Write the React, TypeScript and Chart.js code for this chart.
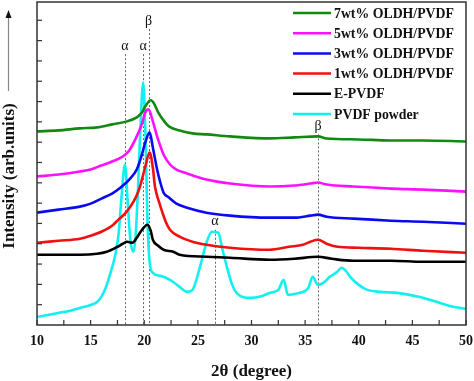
import React, { useEffect, useRef } from "react";
import { Chart, registerables } from "chart.js";
Chart.register(...registerables);

const FONT = "'Liberation Serif', 'Times New Roman', serif";

// 2θ (degree) vs intensity (arb. units, stacked offsets as plotted)
const seriesLabels = [
  "7wt% OLDH/PVDF",
  "5wt% OLDH/PVDF",
  "3wt% OLDH/PVDF",
  "1wt% OLDH/PVDF",
  "E-PVDF",
  "PVDF powder",
];
const seriesColors = ["#128a12", "#ff10ff", "#0a0af0", "#f01010", "#000000", "#10f0f0"];

const green7: number[][] = [
  [10, 193], [12, 194], [14, 196], [15.6, 197], [17, 200], [18.4, 203], [19.3, 207], [19.8, 212],
  [20.1, 218], [20.6, 224], [20.9, 221], [21.3, 212], [21.8, 204], [22.3, 198], [23.3, 194],
  [24.5, 191], [25.8, 190], [28, 188], [31.7, 186], [34, 187], [36.2, 188], [37, 186], [40, 185],
  [43, 184], [46, 184], [50, 183],
];
const magenta5: number[][] = [
  [10, 148], [12, 150], [14, 153], [15, 155], [16, 159], [17, 163], [18, 168], [18.6, 174],
  [19.3, 188], [19.8, 201], [20.1, 212], [20.4, 215], [20.8, 203], [21.2, 188], [21.8, 170],
  [22.4, 160], [23, 155], [24, 151], [25.8, 145], [28, 141], [31.7, 138], [34, 139], [35.5, 141],
  [36.2, 142], [37, 140], [39.5, 138], [43, 136], [46, 135], [50, 133],
];
const blue3: number[][] = [
  [10, 112], [12, 115], [14, 118], [15, 121], [16, 126], [17, 131], [17.8, 137], [18.6, 145],
  [19.3, 155], [19.7, 167], [20.1, 182], [20.5, 192], [20.8, 177], [21.2, 155], [21.5, 142],
  [21.8, 132], [22.3, 127], [23, 121], [24, 117], [25.8, 112], [28, 109], [31.7, 107], [34, 107],
  [35.5, 109], [36.2, 110], [37, 108], [39.5, 106], [43, 104], [46, 103], [50, 101],
];
const red1: number[][] = [
  [10, 82], [12, 84], [14, 86], [15, 89], [16, 93], [17, 99], [17.6, 105], [18.2, 111],
  [18.7, 118], [19.2, 127], [19.6, 138], [20.1, 158], [20.5, 172], [20.8, 157], [21, 138],
  [21.4, 122], [21.7, 112], [22, 103], [22.4, 95], [23.3, 88], [24.5, 83], [25.8, 80], [28, 77],
  [31.7, 75], [33.5, 78], [34.8, 80], [35.5, 83], [36.2, 85], [37, 81], [38, 78], [40, 77],
  [43, 76], [46, 74], [50, 72],
];
const ePvdf: number[][] = [
  [10, 70], [12, 70], [14, 70], [15.6, 71], [16.5, 73], [17.5, 78], [18, 81], [18.4, 83],
  [18.9, 82], [19.3, 87], [19.8, 95], [20.3, 100], [20.6, 94], [20.8, 85], [21.3, 79], [21.8, 75],
  [22.7, 73], [23.3, 70], [25.8, 68], [28, 67], [31.7, 65], [34, 66], [36.2, 68], [37.5, 66],
  [39.5, 64], [43, 64], [46, 63], [50, 63],
];
const powder: number[][] = [
  [10, 8], [11, 10], [12, 12], [13, 14], [14, 17], [15, 20], [15.6, 23], [16, 28], [16.4, 37],
  [16.8, 50], [17.3, 70], [17.6, 90], [17.9, 130], [18.2, 160], [18.5, 115], [18.7, 85], [19, 73],
  [19.2, 90], [19.4, 132], [19.6, 185], [19.9, 242], [20.1, 195], [20.3, 105], [20.5, 63],
  [20.8, 52], [21.5, 49], [22.4, 45], [23.3, 38], [24, 33], [24.5, 35], [25.2, 58], [25.8, 82],
  [26.3, 93], [26.9, 92], [27.3, 75], [27.7, 58], [28.2, 40], [28.6, 32], [29.9, 27], [31, 29],
  [31.7, 32], [32.5, 35], [33, 45], [33.4, 30], [34, 31], [34.8, 33], [35.3, 37], [35.7, 48],
  [36.2, 40], [36.7, 42], [37.3, 48], [38, 53], [38.4, 57], [38.8, 54], [39.2, 48], [40, 40],
  [40.8, 35], [42, 33], [43.6, 32], [45.7, 28], [47, 24], [47.6, 22], [48.5, 19], [50, 16],
];
const seriesData = [green7, magenta5, blue3, red1, ePvdf, powder];

const xTicks = [10, 15, 20, 25, 30, 35, 40, 45, 50];
const yMax = 322;
const yTickStep = 20.25;

// peak markers: position (deg), label, top of marker (intensity units)
const markerAngles = [18.2, 19.9, 20.4, 26.6, 36.2];
const markerLabels = ["α", "α", "β", "α", "β"];
const markerTops = [270, 270, 295, 95, 190];

const decor = {
  id: "decor",
  beforeDatasetsDraw(chart: any) {
    const { ctx, chartArea: a, scales } = chart;
    const x = scales.x, y = scales.y;
    ctx.save();
    ctx.strokeStyle = "#666";
    ctx.lineWidth = 1;
    ctx.setLineDash([2, 2]);
    markerAngles.forEach((ang, i) => {
      const px = Math.round(x.getPixelForValue(ang)) + 0.5;
      ctx.beginPath();
      ctx.moveTo(px, y.getPixelForValue(markerTops[i]));
      ctx.lineTo(px, a.bottom);
      ctx.stroke();
    });
    ctx.restore();
  },
  afterDraw(chart: any) {
    const { ctx, chartArea: a, scales } = chart;
    const x = scales.x, y = scales.y;
    ctx.save();
    // frame
    ctx.strokeStyle = "#333";
    ctx.lineWidth = 1.5;
    ctx.strokeRect(a.left, a.top, a.right - a.left, a.bottom - a.top);
    // x ticks (inward)
    ctx.lineWidth = 1.2;
    for (let v = 10; v <= 50; v += 2.5) {
      const px = x.getPixelForValue(v);
      ctx.beginPath();
      ctx.moveTo(px, a.bottom);
      ctx.lineTo(px, a.bottom - 5);
      ctx.stroke();
    }
    // y ticks (inward)
    for (let i = 1; i * yTickStep < yMax; i++) {
      const py = y.getPixelForValue(i * yTickStep);
      ctx.beginPath();
      ctx.moveTo(a.left, py);
      ctx.lineTo(a.left + 5, py);
      ctx.stroke();
    }
    // marker labels
    ctx.fillStyle = "#111";
    ctx.font = `14px ${FONT}`;
    ctx.textAlign = "center";
    ctx.textBaseline = "bottom";
    markerAngles.forEach((ang, i) => {
      ctx.fillText(markerLabels[i], x.getPixelForValue(ang), y.getPixelForValue(markerTops[i]) - 1);
    });
    // legend
    const ds = chart.data.datasets;
    ctx.textAlign = "left";
    ctx.textBaseline = "middle";
    ctx.font = `bold 13.8px ${FONT}`;
    ds.forEach((d: any, i: number) => {
      const ly = a.top + 11 + i * 20.2;
      ctx.strokeStyle = d.borderColor;
      ctx.lineWidth = 2.5;
      ctx.beginPath();
      ctx.moveTo(a.right - 173, ly);
      ctx.lineTo(a.right - 135, ly);
      ctx.stroke();
      ctx.fillStyle = "#111";
      ctx.fillText(d.label, a.right - 132, ly + 1);
    });
    // x title
    ctx.font = `bold 17px ${FONT}`;
    ctx.textAlign = "center";
    ctx.textBaseline = "middle";
    ctx.fillText("2θ (degree)", (a.left + a.right) / 2, 372);
    // y title with arrow
    ctx.save();
    ctx.translate(10, 176);
    ctx.rotate(-Math.PI / 2);
    ctx.fillText("Intensity (arb.units)", 0, 0);
    ctx.restore();
    ctx.strokeStyle = "#888";
    ctx.lineWidth = 1.2;
    ctx.beginPath();
    ctx.moveTo(8.5, 91);
    ctx.lineTo(8.5, 16);
    ctx.stroke();
    ctx.fillStyle = "#111";
    ctx.beginPath();
    ctx.moveTo(8.5, 10);
    ctx.lineTo(5.5, 18);
    ctx.lineTo(11.5, 18);
    ctx.closePath();
    ctx.fill();
    ctx.restore();
  },
};

export default function App() {
  const ref = useRef<HTMLCanvasElement>(null);
  useEffect(() => {
    if (!ref.current) return;
    const chart = new Chart(ref.current, {
      type: "line",
      data: {
        datasets: seriesData.map((s, i) => ({
          label: seriesLabels[i],
          data: s.map((p) => ({ x: p[0], y: p[1] })),
          borderColor: seriesColors[i],
          backgroundColor: seriesColors[i],
          borderWidth: 2.6,
          pointRadius: 0,
          cubicInterpolationMode: "monotone" as const,
          fill: false,
        })),
      },
      options: {
        animation: false,
        responsive: true,
        maintainAspectRatio: false,
        layout: { padding: { top: 2, right: 8, left: 0, bottom: 0 } },
        plugins: { legend: { display: false }, tooltip: { enabled: false } },
        scales: {
          x: {
            type: "linear",
            min: 10,
            max: 50,
            afterBuildTicks: (s: any) => {
              s.ticks = xTicks.map((v) => ({ value: v }));
            },
            ticks: { font: { family: FONT, size: 14, weight: "bold" }, color: "#111", padding: 8, maxRotation: 0 },
            grid: { display: false, drawTicks: false },
            border: { display: false },
            afterFit: (s: any) => {
              s.height = 56;
              s.paddingLeft = 0;
              s.paddingRight = 0;
            },
          },
          y: {
            type: "linear",
            min: 0,
            max: yMax,
            ticks: { display: false },
            grid: { display: false, drawTicks: false },
            border: { display: false },
            afterFit: (s: any) => {
              s.width = 37;
            },
          },
        },
      },
      plugins: [decor],
    });
    return () => chart.destroy();
  }, []);
  return (
    <div style={{ position: "absolute", left: 0, top: 0, width: 474, height: 381, background: "#fff" }}>
      <canvas ref={ref} />
    </div>
  );
}
